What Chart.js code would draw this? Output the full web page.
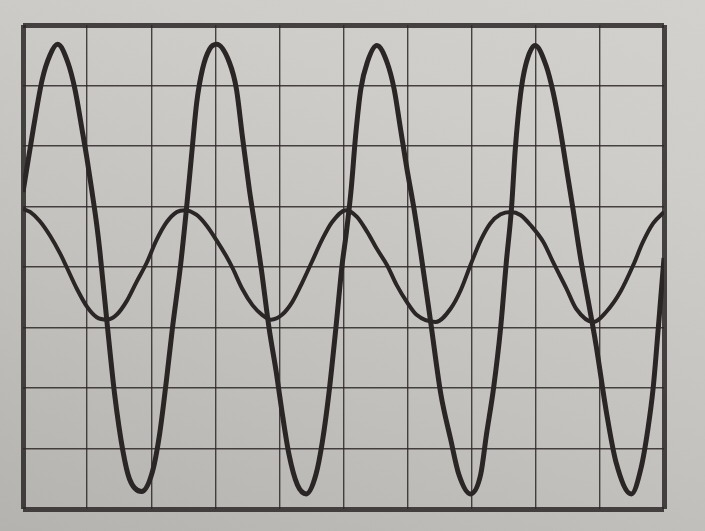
<!DOCTYPE html>
<html>
<head>
<meta charset="utf-8">
<script src="https://cdn.jsdelivr.net/npm/chart.js@4"></script>
<style>
  html, body { margin: 0; padding: 0; }
  body {
    width: 705px; height: 531px; overflow: hidden;
    background: linear-gradient(20deg, #b5b3af 0%, #c4c2bf 40%, #cfcdca 75%, #d3d1ce 100%);
  }
  #wrap { position: relative; width: 705px; height: 531px; }
</style>
</head>
<body>
<div id="wrap"><canvas id="scope"></canvas></div>
<script>
// ---- values, in divisions (x: 0..10, y: -4..4) ----
const bigX = [0.00, 0.16, 0.30, 0.42, 0.54, 0.70, 0.81, 0.92, 1.00, 1.07, 1.15, 1.20, 1.31, 1.43, 1.56, 1.66, 1.85,
  2.02, 2.13, 2.24, 2.33, 2.46, 2.55, 2.63, 2.71, 2.80, 2.91, 3.02, 3.22, 3.33, 3.42, 3.53, 3.64, 3.72, 3.84, 3.95,
  4.04, 4.15, 4.28, 4.42, 4.57, 4.67, 4.77, 4.88, 4.98, 5.04, 5.12, 5.19, 5.27, 5.37, 5.52, 5.68, 5.79, 5.89, 5.99,
  6.10, 6.21, 6.36, 6.52, 6.67, 6.80, 6.98, 7.14, 7.23, 7.34, 7.45, 7.54, 7.62, 7.68, 7.76, 7.84, 7.99, 8.16, 8.27,
  8.38, 8.48, 8.58, 8.69, 8.94, 9.10, 9.25, 9.49, 9.64, 9.75, 9.83, 9.91, 10.00];
const bigY = [1.24, 2.28, 3.10, 3.50, 3.68, 3.38, 2.94, 2.28, 1.78, 1.29, 0.70, 0.25, -0.91, -2.11, -3.05, -3.50, -3.71,
  -3.38, -2.77, -1.85, -1.02, 0.05, 0.96, 1.85, 2.72, 3.27, 3.60, 3.68, 3.38, 2.94, 2.18, 1.29, 0.53, -0.05, -1.02, -1.73,
  -2.39, -3.10, -3.60, -3.75, -3.43, -2.89, -2.11, -1.02, 0.05, 0.53, 1.29, 2.18, 2.94, 3.38, 3.66, 3.38, 2.94, 2.28, 1.62,
  0.96, 0.20, -0.91, -2.11, -2.84, -3.43, -3.75, -3.43, -2.77, -2.01, -1.02, 0.08, 0.96, 1.95, 2.84, 3.33, 3.66, 3.33, 2.89,
  2.28, 1.62, 0.96, 0.20, -1.29, -2.39, -3.22, -3.75, -3.33, -2.67, -2.01, -1.02, 0.15];

const smallX = [0.00, 0.11, 0.26, 0.42, 0.58, 0.68, 0.84, 1.00, 1.15, 1.31, 1.46, 1.62, 1.77, 1.93,
  2.08, 2.24, 2.40, 2.52, 2.71, 2.86, 3.02, 3.17, 3.27, 3.42, 3.58, 3.73, 3.87, 4.04, 4.20, 4.36, 4.50,
  4.67, 4.82, 5.04, 5.21, 5.37, 5.52, 5.68, 5.83, 5.99, 6.14, 6.44, 6.67, 6.83, 6.98,
  7.14, 7.29, 7.45, 7.61, 7.76, 7.92, 8.12, 8.27, 8.48, 8.63, 8.90, 9.10, 9.32, 9.52, 9.67, 9.83, 10.00];
const smallY = [0.96, 0.91, 0.76, 0.52, 0.22, 0.00, -0.36, -0.66, -0.83, -0.87, -0.79, -0.56, -0.25, 0.07,
  0.44, 0.74, 0.91, 0.94, 0.86, 0.69, 0.44, 0.18, -0.02, -0.36, -0.63, -0.79, -0.87, -0.79, -0.58, -0.25, 0.07,
  0.46, 0.74, 0.94, 0.83, 0.58, 0.30, 0.03, -0.30, -0.58, -0.79, -0.91, -0.69, -0.38, 0.03,
  0.44, 0.72, 0.87, 0.91, 0.86, 0.69, 0.41, 0.08, -0.36, -0.69, -0.91, -0.74, -0.41, 0.03, 0.41, 0.72, 0.91];

const xDivs = 10, yDivs = 4;

const toPoints = (xs, ys) => xs.map((x, i) => ({ x, y: ys[i] }));

const ink = '#2b2626';
const gridInk = 'rgba(45,40,40,0.85)';

new Chart(document.getElementById('scope'), {
  type: 'scatter',
  data: {
    datasets: [
      { data: toPoints(bigX, bigY), showLine: true, borderColor: ink, borderWidth: 5,
        pointRadius: 0, cubicInterpolationMode: 'monotone', fill: false },
      { data: toPoints(smallX, smallY), showLine: true, borderColor: ink, borderWidth: 4,
        pointRadius: 0, cubicInterpolationMode: 'monotone', fill: false }
    ]
  },
  options: {
    responsive: true,
    maintainAspectRatio: false,
    animation: false,
    devicePixelRatio: 1,
    layout: { padding: { left: 23, right: 41, top: 25, bottom: 22 } },
    plugins: { legend: { display: false }, tooltip: { enabled: false } },
    scales: {
      x: {
        type: 'linear', min: 0, max: xDivs,
        ticks: { display: false, stepSize: 1 },
        grid: { color: gridInk, lineWidth: c => (c.tick.value === 0 || c.tick.value === xDivs ? 5 : 1.4), drawTicks: false },
        border: { display: false }
      },
      y: {
        type: 'linear', min: -yDivs, max: yDivs,
        ticks: { display: false, stepSize: 1 },
        grid: { color: gridInk, lineWidth: c => (Math.abs(c.tick.value) === yDivs ? 5 : 1.4), drawTicks: false },
        border: { display: false }
      }
    }
  }
});
</script>
</body>
</html>
